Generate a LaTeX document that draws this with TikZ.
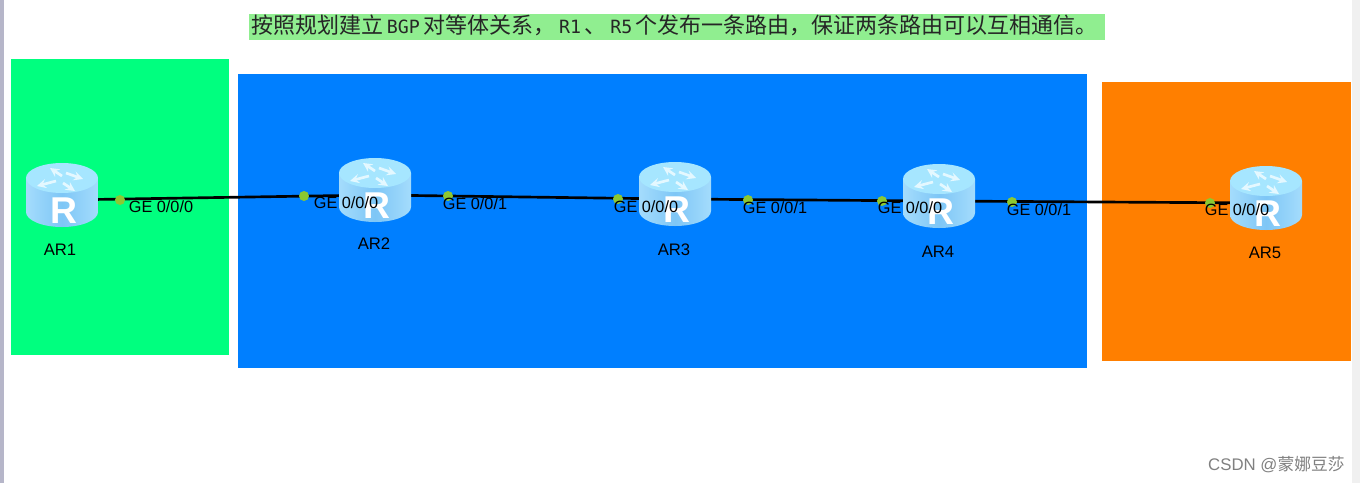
\documentclass[tikz,border=0pt]{standalone}
\usepackage{fontspec}
\setmainfont{Liberation Sans}
\newfontfamily\cjk{Noto Sans CJK SC}
\newfontfamily\latinmono{DejaVu Sans Mono}
\definecolor{zonegreen}{HTML}{00FF7F}
\definecolor{zoneblue}{HTML}{007FFF}
\definecolor{zoneorange}{HTML}{FF7F00}
\definecolor{titlegreen}{HTML}{90EE90}
\definecolor{portgreen}{HTML}{8CC832}
\definecolor{routerside}{HTML}{A4DCFC}
\definecolor{routermid}{HTML}{7EC6F6}
\definecolor{routertop}{HTML}{A6E6FF}
\tikzset{
	zone/.style={fill=#1,draw=none},
	link/.style={line width=2pt,black},
	port/.style={circle,fill=portgreen,inner sep=0pt,minimum size=7.5pt},
	ifname/.style={font=\fontsize{12.2pt}{14pt}\selectfont,inner sep=0pt,text=black},
	devname/.style={font=\fontsize{12.5pt}{14pt}\selectfont,inner sep=0pt,text=black},
	chevron/.style={routertop!30!white,line width=2pt,->,>=stealth},
	router/.pic={
		\shade[left color=routerside,right color=routerside,middle color=routermid]
			(-36,-18)--(-36,16) arc[start angle=180,end angle=0,x radius=36,y radius=15]--(36,-18)--cycle;
		\fill[routertop] (0,-18) ellipse[x radius=36,y radius=15];
		\draw[chevron] (0,-20)--(-12,-28);
		\draw[chevron] (4,-23)--(21,-17);
		\draw[chevron] (-6,-15)--(-25,-10);
		\draw[chevron] (1,-13)--(13,-5);
		\node[white,inner sep=0pt,font=\bfseries\fontsize{28pt}{28pt}\selectfont] at (2,15) {R};
	}
}
\newcommand{\zhtext}[1]{{\cjk #1}}
\newcommand{\entext}[1]{\kern2.7pt{\latinmono\fontsize{13.7pt}{16pt}\selectfont #1}\kern2.7pt}
\begin{document}
\begin{tikzpicture}[x=0.75pt,y=-0.75pt]
	\useasboundingbox (0,0) rectangle (1360,483);
	\fill[white] (0,0) rectangle (1360,483);
	\fill[blue!15!gray!50] (0,0) rectangle (4,483);
	\fill[black!6] (1352,0) rectangle (1360,483);
	% three areas
	\fill[zone=zonegreen] (11,59) rectangle (229,355);
	\fill[zone=zoneblue] (238,74) rectangle (1087,368);
	\fill[zone=zoneorange] (1102,82) rectangle (1351,361);
	\fill[titlegreen] (249,14) rectangle (1105,40);
	\node[inner sep=0pt,anchor=west,text=black!85,font=\fontsize{16.5pt}{20pt}\selectfont] (task) at (251,25)
		{\zhtext{按照规划建立}\entext{BGP}\zhtext{对等体关系，}\entext{R1}\zhtext{、}\entext{R5}\zhtext{个发布一条路由，保证两条路由可以互相通信。}};
	% devices
	\foreach \name/\px/\py in {ar1/62/200,ar2/375/195,ar3/675/199,ar4/939/201,ar5/1266/203}
		\node[inner sep=0pt] (\name) at (\px,\py) {};
	\draw[link] (ar1)--(ar2)--(ar3)--(ar4)--(ar5);
	\foreach \name in {ar1,ar2,ar3,ar4,ar5}
		\pic at ([yshift=3pt]\name) {router};
	\foreach \x/\y in {120/200,304/196,448/196,618/199,748/200,882/201,1012/202,1210/203}
		\node[port] (p\x) at (\x,\y) {};
	% port names
	\foreach \x/\y/\t in {161/207/0,346/203/0,475/204/1,646/207/0,775/208/1,910/208/0,1039/210/1,1237/210/0}
		\node[ifname] (g\x) at (\x,\y) {GE 0/0/\t};
	\node[devname] (n1) at (60,250) {AR1};
	\node[devname] (n2) at (374,244) {AR2};
	\node[devname] (n3) at (674,250) {AR3};
	\node[devname] (n4) at (938,252) {AR4};
	\node[devname] (n5) at (1265,253) {AR5};
	\node[inner sep=0pt,anchor=east,text=black!50,font=\fontsize{12.6pt}{14pt}\selectfont] (mark) at (1345,465) {CSDN @\zhtext{蒙娜豆莎}};
\end{tikzpicture}
\end{document}
